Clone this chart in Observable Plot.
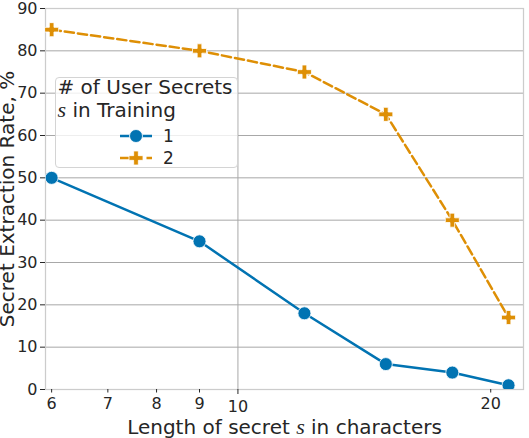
<!DOCTYPE html>
<html><head><meta charset="utf-8">
<script src="https://cdn.jsdelivr.net/npm/d3@7"></script>
<script src="https://cdn.jsdelivr.net/npm/@observablehq/plot@0.6"></script>
<style>
body{margin:0;background:#fff;font-family:"DejaVu Sans",sans-serif;}
#wrap{position:relative;width:529px;height:438px;overflow:hidden;}
#legend{position:absolute;left:55px;top:77px;width:181px;height:89px;background:rgba(255,255,255,0.8);border:1px solid #d4d4d4;border-radius:4px;}
#legend svg{position:absolute;left:-1px;top:-1px;overflow:visible;}
</style></head>
<body>
<div id="wrap"><div id="chart"></div><div id="legend"></div></div>
<script>
// ---- data ----
const lengths = [6, 9, 12, 15, 18, 21];
const rate1 = [50, 35, 18, 6, 4, 1];
const rate2 = [85, 80, 75, 65, 40, 17];
const seriesNames = ["1", "2"];
const colors = ["#0173b2", "#de8f05"];
const yTicks = [0, 10, 20, 30, 40, 50, 60, 70, 80, 90];
const xMinorTicks = [6, 7, 8, 9, 20];
const xMajorTicks = [10];
const xLabel = "Length of secret s in characters";
const yLabel = "Secret Extraction Rate, %";
const legendTitle = ["# of User Secrets", "s in Training"];

const ink = "#262626";
const chart = Plot.plot({
  width: 529, height: 438,
  marginLeft: 45, marginRight: 6, marginTop: 8, marginBottom: 49,
  style: {fontFamily: "DejaVu Sans", fontSize: "16px", color: ink, background: "white", overflow: "visible"},
  x: {type: "log", domain: [5.90, 21.88]},
  y: {domain: [0, 90]},
  marks: [
    Plot.gridY(yTicks.slice(1, -1), {stroke: "#a8a8a8", strokeOpacity: 1, strokeWidth: 1}),
    Plot.gridX(xMajorTicks, {stroke: "#a8a8a8", strokeOpacity: 1, strokeWidth: 1}),
    Plot.frame({stroke: "#cccccc", strokeWidth: 1.25}),
    Plot.axisY(yTicks, {tickSize: 5, tickPadding: 3, label: null, stroke: ink, fill: ink, fontSize: 16, tickFormat: d => String(d)}),
    Plot.axisX(xMinorTicks, {tickSize: 3.5, tickPadding: 5, label: null, stroke: ink, fill: ink, fontSize: 16, tickFormat: d => String(d)}),
    Plot.axisX(xMajorTicks, {tickSize: 5, tickPadding: 6.3, label: null, stroke: ink, fill: ink, fontSize: 16, tickFormat: d => String(d)}),
    Plot.line(lengths, {x: lengths, y: rate2, stroke: colors[1], strokeWidth: 2.5, strokeDasharray: "9.25,4", clip: "frame"}),
    Plot.line(lengths, {x: lengths, y: rate1, stroke: colors[0], strokeWidth: 2.5, clip: "frame"}),
    Plot.dot(lengths, {x: lengths, y: rate1, r: 6.5, symbol: "circle", fill: colors[0], stroke: "white", strokeWidth: 0.8, clip: "frame"}),
    Plot.dot(lengths, {x: lengths, y: rate2, r: 5.9, symbol: "cross", fill: colors[1], stroke: "white", strokeWidth: 0.8, clip: "frame"}),
    Plot.text([yLabel], {text: d => d, frameAnchor: "left", rotate: -90, dx: -38, textAnchor: "middle", lineAnchor: "middle", fontSize: 20, fill: ink}),
    Plot.text([xLabel], {text: d => d, frameAnchor: "bottom", dy: 37.6, textAnchor: "middle", lineAnchor: "middle", fontSize: 20, fill: ink})
  ]
});
document.getElementById("chart").appendChild(chart);

// italic math "s" in the x label
d3.select(chart).selectAll("text").filter(function() { return this.textContent === xLabel; })
  .each(function() {
    const t = d3.select(this);
    const parts = xLabel.split(" s ");
    t.text(null);
    t.append("tspan").text(parts[0] + " ");
    t.append("tspan").attr("font-family", "Liberation Serif").attr("font-style", "italic").attr("font-size", 22).text("s");
    t.append("tspan").text(" " + parts[1]);
  });

// legend
const lg = d3.select("#legend").append("svg").attr("width", 183).attr("height", 91)
  .attr("font-family", "DejaVu Sans").attr("fill", ink);
lg.append("text").attr("x", 2.5).attr("y", 16.5).attr("font-size", 20).text(legendTitle[0]);
const t2 = lg.append("text").attr("x", 2.5).attr("y", 40).attr("font-size", 20);
t2.append("tspan").attr("font-family", "Liberation Serif").attr("font-style", "italic").attr("font-size", 22).text("s");
t2.append("tspan").text(legendTitle[1].slice(1));
const rowY = [59, 81];
seriesNames.forEach((name, i) => {
  const y = rowY[i];
  lg.append("line").attr("x1", 65).attr("x2", 97).attr("y1", y).attr("y2", y)
    .attr("stroke", colors[i]).attr("stroke-width", 2.5)
    .attr("stroke-dasharray", i === 1 ? "9.25,4" : null);
  const sym = i === 0 ? d3.symbolCircle : d3.symbolCross;
  const r = i === 0 ? 6.5 : 5.9;
  lg.append("path").attr("transform", `translate(81,${y})`)
    .attr("d", d3.symbol(sym, Math.PI * r * r)())
    .attr("fill", colors[i]).attr("stroke", "white").attr("stroke-width", 0.8);
  lg.append("text").attr("x", 108).attr("y", y).attr("dy", "0.36em").attr("font-size", 17).text(name);
});
</script>
</body></html>
